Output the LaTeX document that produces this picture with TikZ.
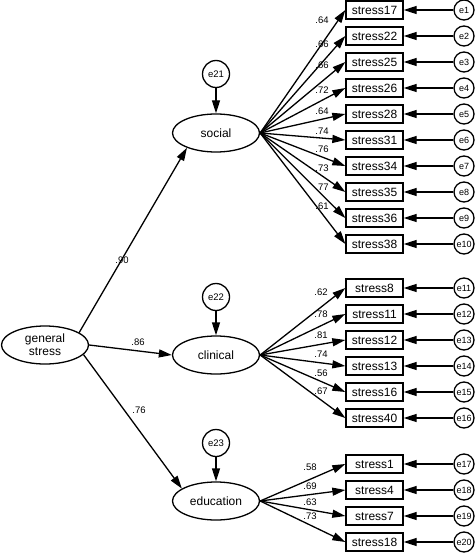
\documentclass[tikz,border=0pt]{standalone}
\usepackage{fontspec}
\setmainfont{Liberation Sans}
\usetikzlibrary{arrows.meta,shapes.geometric}

\begin{document}
\begin{tikzpicture}[x=1pt,y=-1pt,line width=1.3pt,>={Triangle[length=13pt,width=8pt]}]
\tikzstyle{every node}=[font=\fontsize{12}{13}\selectfont]
\tikzstyle{item}=[draw,minimum width=57pt,minimum height=18pt,inner sep=0pt]
\tikzstyle{latent}=[draw,ellipse,minimum width=87pt,minimum height=38pt,inner sep=0pt]
\tikzstyle{err}=[draw,circle,minimum size=20pt,inner sep=0pt,font=\fontsize{9}{10}\selectfont]
\tikzstyle{dist}=[draw,circle,minimum size=27pt,inner sep=0pt,font=\fontsize{9.5}{10}\selectfont]
\tikzstyle{coef}=[inner sep=0pt,font=\fontsize{9.5}{10}\selectfont]

\useasboundingbox (0,0) rectangle (474,553);

% latent factors
\node[latent,align=center] (General) at (45,345) {general\\stress};
\node[latent] (Social) at (216,133) {social};
\node[latent] (Clinical) at (216,355) {clinical};
\node[latent] (Education) at (216,501) {education};

% disturbances
\node[dist] (e21) at (216,74) {e21};
\node[dist] (e22) at (216,297) {e22};
\node[dist] (e23) at (216,443) {e23};
\draw[->] (e21) -- (Social);
\draw[->] (e22) -- (Clinical);
\draw[->] (e23) -- (Education);

% second order loadings
\draw[->] (General.20) -- (Social.207);
\draw[->] (General.east) -- (Clinical.west);
\draw[->] (General.-14) -- (Education.160);
\node[coef] (cSocial) at (122,260) {.90};
\node[coef] (cClinical) at (138,342) {.86};
\node[coef] (cEducation) at (139,410) {.76};

% social items
\foreach \n/\y/\e/\w/\ly in {17/10/1/.64/20, 22/36/2/.66/44, 25/62/3/.66/65,
  26/88/4/.72/90, 28/114/5/.64/111, 31/140/6/.74/131, 34/166/7/.76/149,
  35/192/8/.73/168, 36/218/9/.77/187, 38/244/10/.61/206} {
  \node[item] (stress\n) at (374.5,\y) {stress\n};
  \node[err] (e\e) at (464,\y) {e\e};
  \draw[->] (e\e) -- (stress\n);
  \draw[->] (Social.east) -- (stress\n.west);
  \node[coef] (c\n) at (322,\ly) {\w};
}

% clinical items
\foreach \n/\y/\e/\w/\ly in {8/288/11/.62/292, 11/314/12/.78/314, 12/340/13/.81/335,
  13/366/14/.74/354, 16/392/15/.56/373, 40/418/16/.67/391} {
  \node[item] (stress\n) at (374.5,\y) {stress\n};
  \node[err] (e\e) at (464,\y) {e\e};
  \draw[->] (e\e) -- (stress\n);
  \draw[->] (Clinical.east) -- (stress\n.west);
  \node[coef] (c\n) at (321,\ly) {\w};
}

% education items
\foreach \n/\y/\e/\w/\ly in {1/464/17/.58/467, 4/490/18/.69/486,
  7/516/19/.63/502, 18/542/20/.73/516} {
  \node[item] (stress\n) at (374.5,\y) {stress\n};
  \node[err] (e\e) at (464,\y) {e\e};
  \draw[->] (e\e) -- (stress\n);
  \draw[->] (Education.east) -- (stress\n.west);
  \node[coef] (c\n) at (310,\ly) {\w};
}
\end{tikzpicture}
\end{document}
